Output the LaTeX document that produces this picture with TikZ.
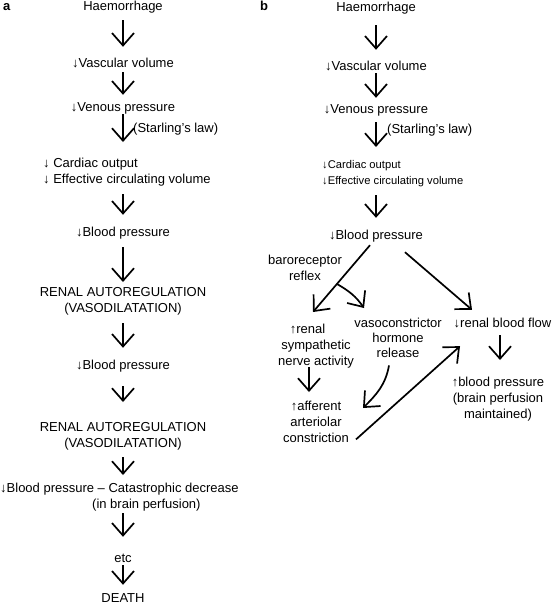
\documentclass[tikz,border=0pt]{standalone}
\usepackage{fontspec}
\setmainfont{Liberation Sans}
\usetikzlibrary{arrows.meta,calc}
\newcommand\tp{\rule{0pt}{10pt}}
\newcommand\bt{\rule[-3pt]{0pt}{3pt}}
\begin{document}
\begin{tikzpicture}[x=1pt,y=-1pt,
  lbl/.style={inner sep=0pt, font=\fontsize{13}{16}\selectfont, text height=10pt, text depth=3pt},
  mlbl/.style={inner sep=0pt, font=\fontsize{13}{16}\selectfont, align=center},
  panel/.style={inner sep=0pt, font=\bfseries\fontsize{13}{16}\selectfont, anchor=base west},
  bigarr/.style={line width=1.7pt, -{Straight Barb[length=12.5pt,width=22pt]}}]
\useasboundingbox (0,0) rectangle (554,605);

% ---------- panel a ----------
\node[panel] (la) at (3,10) {a};
\node[lbl,anchor=base] (hA) at (123,10) {Haemorrhage};
\node[lbl,anchor=base] (vvA) at (123,67) {↓Vascular volume};
\node[lbl,anchor=base] (vpA) at (123,111) {↓Venous pressure};
\node[lbl,anchor=base west] (stA) at (133,132) {(Starling’s law)};
\node[mlbl,align=left,anchor=north west] (cdA) at (43,157) {\tp↓ Cardiac output\\↓ Effective circulating volume\bt};
\node[lbl,anchor=base] (bp1A) at (123,236) {↓Blood pressure};
\node[mlbl,anchor=north] (ra1A) at (123,286) {\tp RENAL AUTOREGULATION\\(VASODILATATION)\bt};
\node[lbl,anchor=base] (bp2A) at (123,369) {↓Blood pressure};
\node[mlbl,anchor=north] (ra2A) at (123,421) {\tp RENAL AUTOREGULATION\\(VASODILATATION)\bt};
\node[mlbl,align=left,anchor=north west] (catA) at (0,482) {\tp↓Blood pressure – Catastrophic decrease\\\hspace*{92pt}(in brain perfusion)\bt};
\node[lbl,anchor=base] (etcA) at (123,562) {etc};
\node[lbl,anchor=base] (deathA) at (123,602.5) {DEATH};

\draw[bigarr, shorten <=7pt, shorten >=10pt] (hA.south) -- (vvA.north);
\draw[bigarr, shorten <=2pt, shorten >=6pt] (vvA.south) -- (vpA.north);
\draw[bigarr, shorten <=0pt, shorten >=15pt] (vpA.south) -- (vpA.south |- cdA.north);
\draw[bigarr, shorten <=8pt, shorten >=11pt] (cdA.south -| bp1A) -- (bp1A.north);
\draw[bigarr, shorten <=8pt, shorten >=4pt] (bp1A.south) -- (ra1A.north);
\draw[bigarr, shorten <=8pt, shorten >=11pt] (ra1A.south) -- (bp2A.north);
\draw[bigarr, shorten <=14pt, shorten >=19pt] (bp2A.south) -- (ra2A.north);
\draw[bigarr, shorten <=7pt, shorten >=7pt] (ra2A.south) -- (ra2A.south |- catA.north);
\draw[bigarr, shorten <=2pt, shorten >=15pt] (catA.south -| etcA) -- (etcA.north);
\draw[bigarr, shorten <=0pt, shorten >=7.5pt] (etcA.south) -- (deathA.north);

% ---------- panel b ----------
\node[panel] (lb) at (260,10) {b};
\node[lbl,anchor=base] (hB) at (376,12) {Haemorrhage};
\node[lbl,anchor=base] (vvB) at (376,70) {↓Vascular volume};
\node[lbl,anchor=base] (vpB) at (376,113) {↓Venous pressure};
\node[lbl,anchor=base west] (stB) at (387,133) {(Starling’s law)};
\node[mlbl,font=\fontsize{11.2}{16}\selectfont,align=left,anchor=north west] (cdB) at (322,158) {\tp↓Cardiac output\\↓Effective circulating volume\bt};
\node[lbl,anchor=base] (bpB) at (376,239) {↓Blood pressure};
\node[mlbl,anchor=north] (baroB) at (305,254) {\tp baroreceptor\\reflex\bt};
\node[mlbl,anchor=north] (rsB) at (316,323) {\tp↑renal\rule{17pt}{0pt}\\sympathetic\\nerve activity\bt};
\node[mlbl,font=\fontsize{13}{15}\selectfont,anchor=north] (vasoB) at (398,317) {\tp vasoconstrictor\\hormone\\release\bt};
\node[lbl,anchor=base] (rbfB) at (502.5,327) {↓renal blood flow};
\node[mlbl,anchor=north] (bpupB) at (498,376) {\tp↑blood pressure\\(brain perfusion\\maintained)\bt};
\node[mlbl,anchor=north] (affB) at (316,400) {\tp↑afferent\\arteriolar\\constriction\bt};

\draw[bigarr, shorten <=10pt, shorten >=10pt] (hB.south) -- (vvB.north);
\draw[bigarr, shorten <=0pt, shorten >=5pt] (vvB.south) -- (vpB.north);
\draw[bigarr, shorten <=6pt, shorten >=11pt] (vpB.south) -- (vpB.south |- cdB.north);
\draw[bigarr, shorten <=8pt, shorten >=11pt] (cdB.south -| bpB) -- (bpB.north);

\coordinate (lA) at ($(bpB.south)+(-6,3)$);
\coordinate (lB) at ($(rsB.north)+(-3,-11)$);
\draw[bigarr] (lA) -- (lB);
\coordinate (jn) at ($(lA)!0.58!(lB)$);
\draw[bigarr] (jn) to[out=-30,in=125] ($(vasoB.north)+(-34,-9)$);
\draw[bigarr] ($(bpB.south)+(29,10)$) -- ($(rbfB.north)+(-30.5,-7)$);
\draw[bigarr] ($(rsB.south)+(-7,-1)$) -- ($(affB.north)+(-7,-8)$);
\draw[bigarr] ($(rbfB.south)+(-2.5,5)$) -- ($(bpupB.north)+(2,-16)$);
\draw[bigarr] ($(vasoB.south)+(-9,5)$) to[out=-100,in=45] ($(affB.north)+(47,8)$);
\draw[bigarr] ($(affB.south)+(40,-6)$) -- ($(rbfB.south)+(-42.5,16)$);
\end{tikzpicture}
\end{document}
